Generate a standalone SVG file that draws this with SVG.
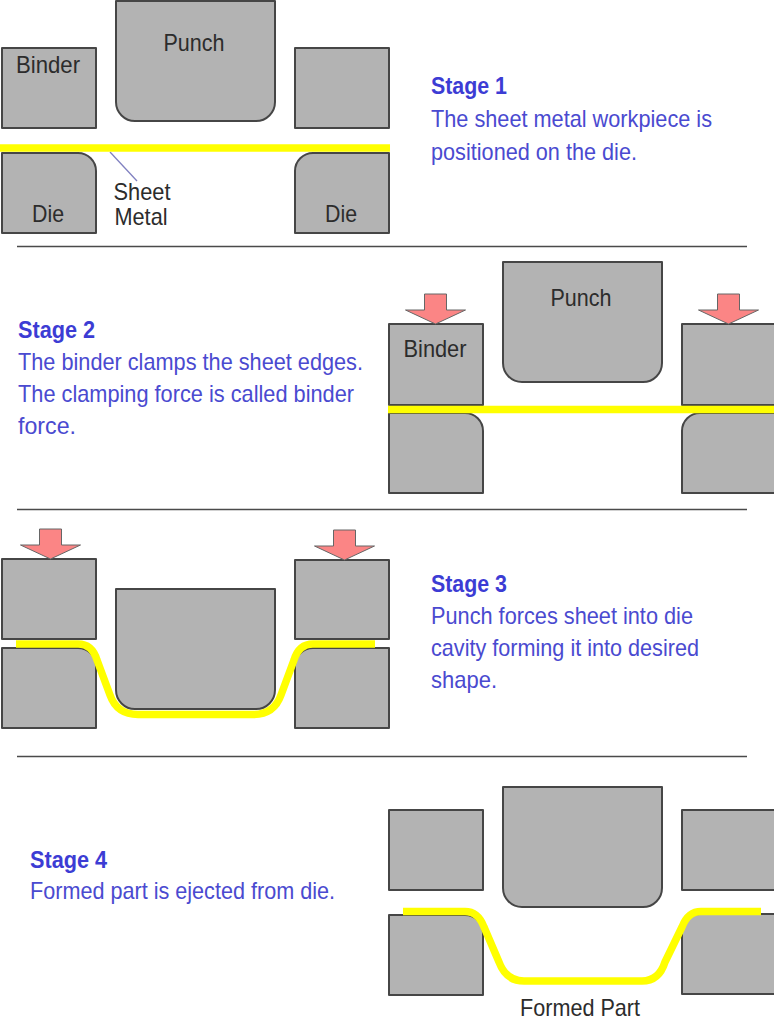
<svg xmlns="http://www.w3.org/2000/svg" width="774" height="1024" viewBox="0 0 774 1024">
<style>
.b{fill:#b3b3b3;stroke:#464646;stroke-width:2;stroke-linejoin:round}
.s{fill:none;stroke:#ffff00;stroke-width:7.500;stroke-linejoin:round}
.a{fill:#fb8585;stroke:#666;stroke-width:1;stroke-linejoin:miter}
.r{stroke:#4a4a4a;stroke-width:1.600;fill:none}
text{font-family:"Liberation Sans",Arial,sans-serif}
.l{font-size:24px;fill:#2c2c2c}
.t{font-size:24px;fill:#4a4ad0}
.h{font-size:24px;fill:#3c3cd4;font-weight:bold}
</style>
<defs>
<path id="arrow" class="a" d="M-11,-30V-14H-30L0,0L30,-14H11V-30Z"/>
<path id="pb" class="b" d="M0,0H159V101A19,19 0 0 1 140,120H19A19,19 0 0 1 0,101Z"/>
<path id="dl" class="b" d="M0,0H76A18,18 0 0 1 94,18V80H0Z"/>
<path id="dr" class="b" d="M94,0H18A18,18 0 0 0 0,18V80H94Z"/>
</defs>
<rect width="774" height="1024" fill="#fff"/>
<g id="rules">
<path class="r" d="M17,246.500H747M17,509.500H747M17,756.500H747"/>
</g>
<g id="connectors">
<path d="M110,152L137,181" stroke="#8080c0" stroke-width="1.300" fill="none"/>
</g>
<g id="stage1">
<rect class="b" x="2" y="48" width="94" height="80"/>
<use href="#pb" x="116" y="1"/>
<rect class="b" x="295" y="48" width="94" height="80"/>
<use href="#dl" x="2" y="153"/>
<use href="#dr" x="295" y="153"/>
<path class="s" d="M0,148H390"/>
<text class="l" x="48" y="73" text-anchor="middle" textLength="64" lengthAdjust="spacingAndGlyphs">Binder</text>
<text class="l" x="194" y="51" text-anchor="middle" textLength="61" lengthAdjust="spacingAndGlyphs">Punch</text>
<text class="l" x="48" y="222" text-anchor="middle" textLength="32" lengthAdjust="spacingAndGlyphs">Die</text>
<text class="l" x="341" y="222" text-anchor="middle" textLength="32" lengthAdjust="spacingAndGlyphs">Die</text>
<text class="l" x="142" y="200" text-anchor="middle" textLength="57" lengthAdjust="spacingAndGlyphs">Sheet</text>
<text class="l" x="141" y="225" text-anchor="middle" textLength="53" lengthAdjust="spacingAndGlyphs">Metal</text>
<text class="h" x="431" y="94" textLength="76" lengthAdjust="spacingAndGlyphs">Stage 1</text>
<text class="t" x="431" y="127" textLength="281" lengthAdjust="spacingAndGlyphs">The sheet metal workpiece is</text>
<text class="t" x="431" y="160" textLength="206" lengthAdjust="spacingAndGlyphs">positioned on the die.</text>
</g>
<g id="stage2">
<rect class="b" x="389" y="324" width="94" height="81"/>
<use href="#pb" x="503" y="262"/>
<rect class="b" x="682" y="324" width="94" height="81"/>
<use href="#dl" x="389" y="413"/>
<use href="#dr" x="682" y="413"/>
<path class="s" d="M388,409.500H774"/>
<use href="#arrow" x="435.500" y="324"/>
<use href="#arrow" x="728.500" y="324"/>
<text class="l" x="435" y="357" text-anchor="middle" textLength="63" lengthAdjust="spacingAndGlyphs">Binder</text>
<text class="l" x="581" y="306" text-anchor="middle" textLength="61" lengthAdjust="spacingAndGlyphs">Punch</text>
<text class="h" x="18" y="338" textLength="77" lengthAdjust="spacingAndGlyphs">Stage 2</text>
<text class="t" x="18" y="370" textLength="345" lengthAdjust="spacingAndGlyphs">The binder clamps the sheet edges.</text>
<text class="t" x="18" y="402" textLength="336" lengthAdjust="spacingAndGlyphs">The clamping force is called binder</text>
<text class="t" x="18" y="434" textLength="58" lengthAdjust="spacingAndGlyphs">force.</text>
</g>
<g id="stage3">
<rect class="b" x="2" y="559" width="94" height="80"/>
<rect class="b" x="295" y="560" width="94" height="79"/>
<use href="#dl" x="2" y="648"/>
<use href="#dr" x="295" y="648"/>
<path class="s" d="M16,644H78Q92,644 97,660L110,695Q117,714.500 138,714.500H253Q274,714.500 281,695L294,660Q299,644 313,644H375"/>
<use href="#pb" x="116" y="589"/>
<use href="#arrow" x="50.500" y="559"/>
<use href="#arrow" x="344.500" y="560"/>
<text class="h" x="431" y="592" textLength="76" lengthAdjust="spacingAndGlyphs">Stage 3</text>
<text class="t" x="431" y="624" textLength="262" lengthAdjust="spacingAndGlyphs">Punch forces sheet into die</text>
<text class="t" x="431" y="656" textLength="268" lengthAdjust="spacingAndGlyphs">cavity forming it into desired</text>
<text class="t" x="431" y="688" textLength="66" lengthAdjust="spacingAndGlyphs">shape.</text>
</g>
<g id="stage4">
<rect class="b" x="389" y="810" width="94" height="80"/>
<rect class="b" x="682" y="810" width="94" height="80"/>
<use href="#pb" x="503" y="787"/>
<use href="#dl" x="389" y="915"/>
<use href="#dr" x="682" y="914"/>
<path class="s" d="M403,911.500H465Q478,911.500 484,927L499,962Q506,981 524,981H642Q659,981 665,962L682,927Q688,911.500 701,911.500H761"/>
<text class="h" x="30" y="868" textLength="77" lengthAdjust="spacingAndGlyphs">Stage 4</text>
<text class="t" x="30" y="899" textLength="305" lengthAdjust="spacingAndGlyphs">Formed part is ejected from die.</text>
<text class="l" x="580" y="1016" text-anchor="middle" textLength="120" lengthAdjust="spacingAndGlyphs">Formed Part</text>
</g>
</svg>
